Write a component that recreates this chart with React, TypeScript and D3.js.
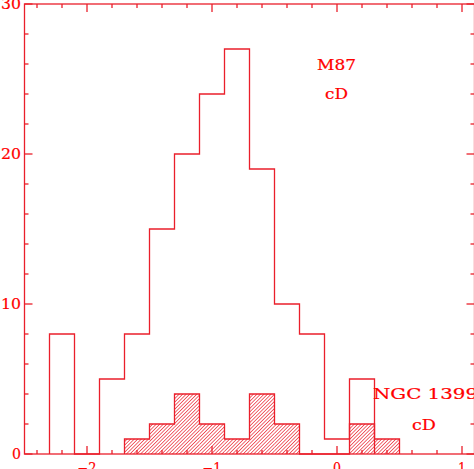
import React from "react";
import * as d3 from "d3";

const binWidth = 0.2;
const m87Starts = [-2.3, -2.1, -1.9, -1.7, -1.5, -1.3, -1.1, -0.9, -0.7, -0.5, -0.3, -0.1, 0.1];
const m87Counts = [8, 0, 5, 8, 15, 20, 24, 27, 19, 10, 8, 1, 5];
const ngcStarts = [-1.7, -1.5, -1.3, -1.1, -0.9, -0.7, -0.5, -0.3, -0.1, 0.1, 0.3];
const ngcCounts = [1, 2, 4, 2, 1, 4, 2, 0, 0, 2, 1];
const xMajorTicks = [-2, -1, 0, 1];
const xTickLabels = ["\u22122", "\u22121", "0", "1"];
const yMajorTicks = [0, 10, 20, 30];
const yTickLabels = ["0", "10", "20", "30"];

const W = 474;
const H = 469;
const COLOR = "#ea1f2b";
const TEXT = "#ff0000";

export default function App() {
  const x = d3.scaleLinear().domain([-2.5, 1.1]).range([24.5, 474.5]);
  const y = d3.scaleLinear().domain([0, 30]).range([454, 4]);
  const [x0, x1] = x.range();
  const [yb, yt] = y.range();

  const stepPath = (starts: number[], counts: number[]) => {
    const pts: [number, number][] = [[starts[0], 0]];
    starts.forEach((s, i) => {
      pts.push([s, counts[i]]);
      pts.push([s + binWidth, counts[i]]);
    });
    pts.push([starts[starts.length - 1] + binWidth, 0]);
    return d3.line<[number, number]>().x((d) => x(d[0])).y((d) => y(d[1]))(pts) || "";
  };

  const xMinor = d3.range(-2.4, 1.11, 0.2).map((v) => Math.round(v * 10) / 10);
  const yMinor = d3.range(0, 31, 2);
  const major = 8;
  const minor = 4;

  const font = "'DejaVu Serif', serif";
  const txt = {
    fontFamily: font,
    fontSize: 14,
    fill: TEXT,
    stroke: TEXT,
    strokeWidth: 0.2,
    lengthAdjust: "spacingAndGlyphs" as const,
  };

  return (
    <svg width={W} height={H} style={{ position: "absolute", left: 0, top: 0, background: "#fff" }}>
      <defs>
        <pattern id="hatch" patternUnits="userSpaceOnUse" width={2.5} height={2.5} patternTransform="rotate(45)">
          <line x1={0} y1={0} x2={0} y2={2.5} stroke={COLOR} strokeWidth={1.35} />
        </pattern>
      </defs>
      {ngcStarts.map((s, i) =>
        ngcCounts[i] > 0 ? (
          <rect key={i} x={x(s)} y={y(ngcCounts[i])} width={x(s + binWidth) - x(s)} height={y(0) - y(ngcCounts[i])} fill="url(#hatch)" />
        ) : null
      )}
      <path d={stepPath(ngcStarts, ngcCounts)} fill="none" stroke={COLOR} strokeWidth={1.3} />
      <path d={stepPath(m87Starts, m87Counts)} fill="none" stroke={COLOR} strokeWidth={1.3} />
      <rect x={x0} y={yt} width={x1 - x0} height={yb - yt} fill="none" stroke={COLOR} strokeWidth={1.3} />
      {xMinor.map((v, i) => {
        const isMajor = Math.abs(v - Math.round(v)) < 1e-6;
        const len = isMajor ? major : minor;
        return (
          <g key={i}>
            <line x1={x(v)} x2={x(v)} y1={yb} y2={yb - len} stroke={COLOR} strokeWidth={1.3} />
            <line x1={x(v)} x2={x(v)} y1={yt} y2={yt + len} stroke={COLOR} strokeWidth={1.3} />
          </g>
        );
      })}
      {yMinor.map((v, i) => {
        const isMajor = v % 10 === 0;
        const len = isMajor ? major : minor;
        return (
          <g key={i}>
            <line x1={x0} x2={x0 + len} y1={y(v)} y2={y(v)} stroke={COLOR} strokeWidth={1.3} />
            <line x1={x1} x2={x1 - len} y1={y(v)} y2={y(v)} stroke={COLOR} strokeWidth={1.3} />
          </g>
        );
      })}
      {xMajorTicks.map((v, i) => (
        <text key={i} x={x(v)} y={473} textAnchor="middle" {...txt} textLength={xTickLabels[i].length > 1 ? 19 : 8}>
          {xTickLabels[i]}
        </text>
      ))}
      {yMajorTicks.map((v, i) => (
        <text key={i} x={21} y={y(v) + 5} textAnchor="end" {...txt} textLength={yTickLabels[i].length > 1 ? 20 : 9}>
          {yTickLabels[i]}
        </text>
      ))}
      <text x={317} y={70} {...txt} textLength={39}>M87</text>
      <text x={325} y={99} {...txt} textLength={23}>cD</text>
      <text x={373} y={399} {...txt} textLength={105}>NGC 1399</text>
      <text x={412} y={430} {...txt} textLength={24}>cD</text>
    </svg>
  );
}
